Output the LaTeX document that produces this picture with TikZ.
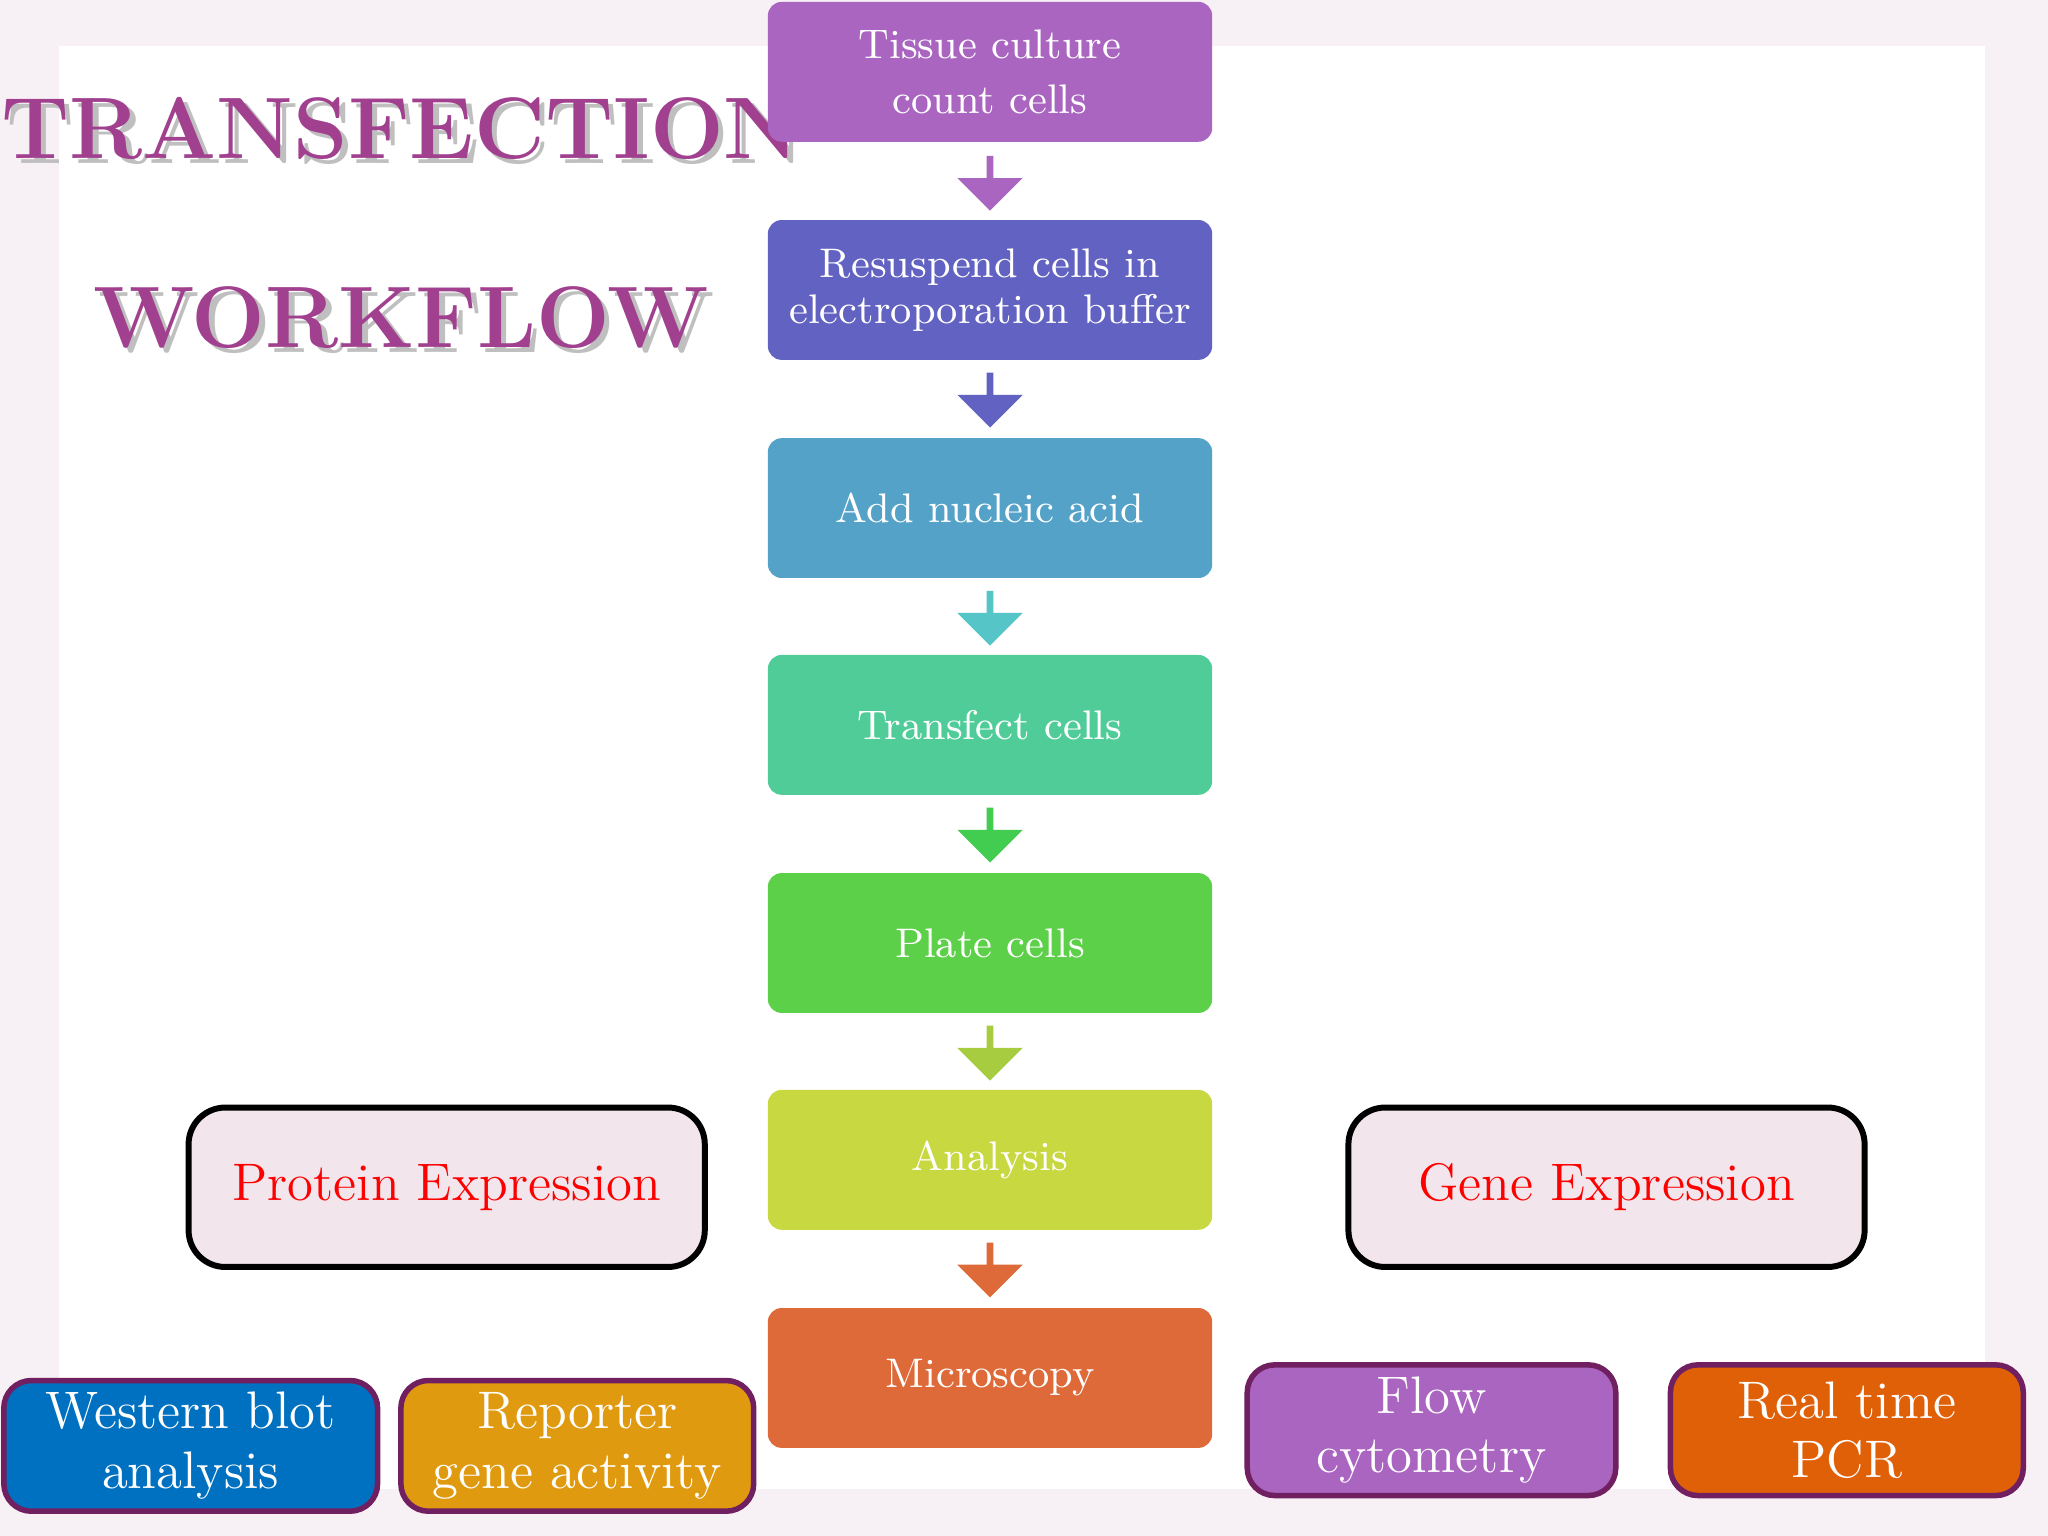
\documentclass[tikz,border=0pt]{standalone}
\usepackage{tikz}
\usetikzlibrary{positioning,shapes.arrows}
\definecolor{cPurple}{HTML}{A965C0}
\definecolor{cIndigo}{HTML}{6262C2}
\definecolor{cBlue}{HTML}{55A2C8}
\definecolor{cTeal}{HTML}{50CC98}
\definecolor{cGreen}{HTML}{5CD048}
\definecolor{cLime}{HTML}{C8D840}
\definecolor{cOrange}{HTML}{DD6A38}
\definecolor{cCyan}{HTML}{55C5C8}
\definecolor{cArrGreen}{HTML}{42CC50}
\definecolor{cArrLime}{HTML}{A8CC40}
\definecolor{cTitle}{HTML}{A0408F}
\definecolor{cPale}{HTML}{F2E6EC}
\definecolor{cWB}{HTML}{0070C0}
\definecolor{cRep}{HTML}{E09A10}
\definecolor{cPCR}{HTML}{E06008}
\definecolor{cEdge}{HTML}{702060}
\tikzset{
  stage/.style={rectangle, rounded corners=3pt, minimum width=3.4cm, minimum height=1.07cm,
    text=white, align=center, font=\fontsize{9}{10}\selectfont, inner sep=1pt},
  side/.style={rectangle, rounded corners=8pt, draw=black, line width=1.3pt, fill=cPale,
    minimum width=3.95cm, minimum height=1.22cm, text=red, font=\fontsize{11.5}{13}\selectfont},
  leaf/.style={rectangle, rounded corners=6pt, draw=cEdge, line width=1.2pt,
    minimum width=2.86cm, minimum height=1.0cm, text=white, align=center,
    font=\fontsize{11.5}{13}\selectfont, inner sep=1pt},
  down/.style={single arrow, shape border rotate=270, minimum width=0.5cm,
    single arrow head extend=0.06cm, single arrow tip angle=90, minimum height=0.42cm, inner sep=0pt},
  title/.style={text=cTitle, font=\fontsize{19}{20}\selectfont\bfseries}
}
\begin{document}
\begin{tikzpicture}[x=0.01cm,y=-0.01cm]
  \fill[cPale!60] (0,0) rectangle (1568,1176);
  \fill[white] (45,35) rectangle (1520,1140);
  \useasboundingbox (0,0) rectangle (1568,1176);

  % title
  \node[title, text=black!25, xshift=1.2pt, yshift=-1.2pt] at (307,98) {TRANSFECTION};
  \node[title] (t1) at (307,98) {TRANSFECTION};
  \node[title, text=black!25, xshift=1.2pt, yshift=-1.2pt] at (307,243) {WORKFLOW};
  \node[title] (t2) at (307,243) {WORKFLOW};

  % main column
  \node[stage, fill=cPurple] (culture) at (758,55) {Tissue culture\\[2pt] count cells};
  \node[stage, fill=cIndigo] (resus) at (758,222) {Resuspend cells in\\electroporation buffer};
  \node[stage, fill=cBlue] (add) at (758,389) {Add nucleic acid};
  \node[stage, fill=cTeal] (transf) at (758,555) {Transfect cells};
  \node[stage, fill=cGreen] (plate) at (758,722) {Plate cells};
  \node[stage, fill=cLime] (anal) at (758,888) {Analysis};
  \node[stage, fill=cOrange] (micro) at (758,1055) {Microscopy};

  % arrows
  \node[down, fill=cPurple] at (758,139) {};
  \node[down, fill=cIndigo] at (758,305) {};
  \node[down, fill=cCyan] at (758,472) {};
  \node[down, fill=cArrGreen] at (758,638) {};
  \node[down, fill=cArrLime] at (758,805) {};
  \node[down, fill=cOrange] at (758,971) {};

  % sides
  \node[side] (prot) at (342,909) {Protein Expression};
  \node[side] (gene) at (1230,909) {Gene Expression};

  \node[leaf, fill=cWB] (west) at (146,1107) {Western blot\\analysis};
  \node[leaf, fill=cRep, minimum width=2.7cm] (rep) at (442,1107) {Reporter\\gene activity};
  \node[leaf, fill=cPurple, minimum width=2.82cm] (flow) at (1096,1095) {Flow\\cytometry};
  \node[leaf, fill=cPCR, minimum width=2.7cm] (pcr) at (1414,1095) {Real time\\PCR};
\end{tikzpicture}
\end{document}
